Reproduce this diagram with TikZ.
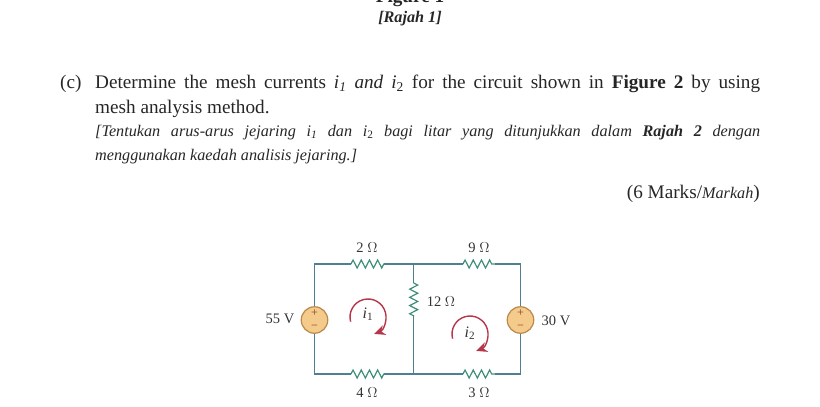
\documentclass[tikz,border=0pt]{standalone}
\usepackage{fontspec}
\setmainfont{Liberation Serif}
\usetikzlibrary{arrows.meta,decorations.pathmorphing}
\definecolor{wirecol}{HTML}{4F7F90}
\definecolor{rescol}{HTML}{3F8F78}
\definecolor{srcfill}{HTML}{F5CB8C}
\definecolor{srcedge}{HTML}{B98A4A}
\definecolor{polcol}{HTML}{8A3A28}
\definecolor{meshcol}{HTML}{B5354A}
\newcommand{\bodysize}{\fontsize{19.2}{20}\selectfont}
\newcommand{\transsize}{\fontsize{16.2}{17}\selectfont}
\newcommand{\partsize}{\fontsize{14.5}{15}\selectfont}

\begin{document}
\begin{tikzpicture}[
  x=1pt, y=-1pt,
  txt/.style={anchor=base west, inner sep=0pt, text=black!85},
  part/.style={anchor=base, inner sep=0pt, text=black!80, font=\partsize},
  wire/.style={draw=wirecol, line width=1.2pt},
  res/.style={draw=rescol, line width=1.2pt, decorate,
    decoration={zigzag, segment length=8.2pt, amplitude=4pt}},
  src/.style={circle, draw=srcedge, fill=srcfill, line width=1.2pt,
    minimum size=26.5pt, inner sep=0pt, align=center, text=polcol,
    font=\fontsize{12}{13}\selectfont},
  mesh/.style={draw=meshcol, line width=1.4pt, -{Stealth[length=11pt, width=10pt]}}
]
\useasboundingbox (0,0) rectangle (820,407);
% text of the page
\node [txt, anchor=base, font=\bodysize\bfseries] (figone) at (410,2) {Figure 1};
\node [txt, anchor=base, font=\transsize\itshape\bfseries] (rajah) at (410,22) {[Rajah 1]};
\node [txt, font=\bodysize] (partc) at (60,88) {(c)};
\node [txt, font=\bodysize] (qa) at (95,88) {\makebox[665pt][s]{Determine the mesh currents \textit{i\textsubscript{1} and} \textit{i}\textsubscript{2} for the circuit shown in \textbf{Figure 2} by using}};
\node [txt, font=\bodysize] (qb) at (95,113) {mesh analysis method.};
\node [txt, font=\transsize\itshape] (ta) at (95,136) {\makebox[665pt][s]{[Tentukan arus-arus jejaring \textit{i\textsubscript{1}} dan \textit{i}\textsubscript{\upshape 2} bagi litar yang ditunjukkan dalam \textbf{Rajah 2} dengan}};
\node [txt, font=\transsize\itshape] (tb) at (95,160) {menggunakan kaedah analisis jejaring.]};
\node [txt, anchor=base east, font=\bodysize] (marks) at (760,198) {(6 Marks/{\transsize\itshape Markah})};
% corners and junctions
\coordinate (tl) at (314.5,264);
\coordinate (tm) at (413.7,264);
\coordinate (tr) at (520.5,264);
\coordinate (bl) at (314.5,374);
\coordinate (bm) at (413.7,374);
\coordinate (br) at (520.5,374);
% resistor ends
\coordinate (rtwoa) at (351,264);
\coordinate (rtwob) at (384,264);
\coordinate (rninea) at (463,264);
\coordinate (rnineb) at (495,264);
\coordinate (rfoura) at (351,374);
\coordinate (rfourb) at (384,374);
\coordinate (rthreea) at (463,374);
\coordinate (rthreeb) at (495,374);
\coordinate (rtwelvea) at (413.7,283);
\coordinate (rtwelveb) at (413.7,316);
% sources
\node [src] (vleft) at (314.5,320) {+\\\textminus};
\node [src] (vright) at (520.5,320) {+\\\textminus};
% wires
\draw [wire] (vleft) -- (tl) -- (rtwoa);
\draw [wire] (rtwob) -- (tm) -- (rninea);
\draw [wire] (rnineb) -- (tr) -- (vright);
\draw [wire] (vleft) -- (bl) -- (rfoura);
\draw [wire] (rfourb) -- (bm) -- (rthreea);
\draw [wire] (rthreeb) -- (br) -- (vright);
\draw [wire] (tm) -- (rtwelvea);
\draw [wire] (rtwelveb) -- (bm);
% resistors
\draw [res] (rtwoa) -- (rtwob);
\draw [res] (rninea) -- (rnineb);
\draw [res] (rfoura) -- (rfourb);
\draw [res] (rthreea) -- (rthreeb);
\draw [res] (rtwelvea) -- (rtwelveb);
% labels
\node [part] (ltwo) at (367,252) {2 $\Omega$};
\node [part] (lnine) at (479,252) {9 $\Omega$};
\node [part] (lfour) at (367,397) {4 $\Omega$};
\node [part] (lthree) at (479,397) {3 $\Omega$};
\node [part] (ltwelve) at (441,306) {12 $\Omega$};
\node [part] (lfive) at (280,323) {55 V};
\node [part] (lthirty) at (556,325) {30 V};
% mesh currents
\coordinate (cone) at (368,317);
\coordinate (ctwo) at (470,334);
\draw [mesh] (cone) ++(165:18) arc [start angle=165, end angle=430, radius=18];
\draw [mesh] (ctwo) ++(165:18) arc [start angle=165, end angle=430, radius=18];
\node [part, font=\fontsize{16}{16}\selectfont] (ione) at (368,318) {\textit{i}\textsubscript{1}};
\node [part, font=\fontsize{16}{16}\selectfont] (itwo) at (470,337) {\textit{i}\textsubscript{2}};
\end{tikzpicture}
\end{document}
